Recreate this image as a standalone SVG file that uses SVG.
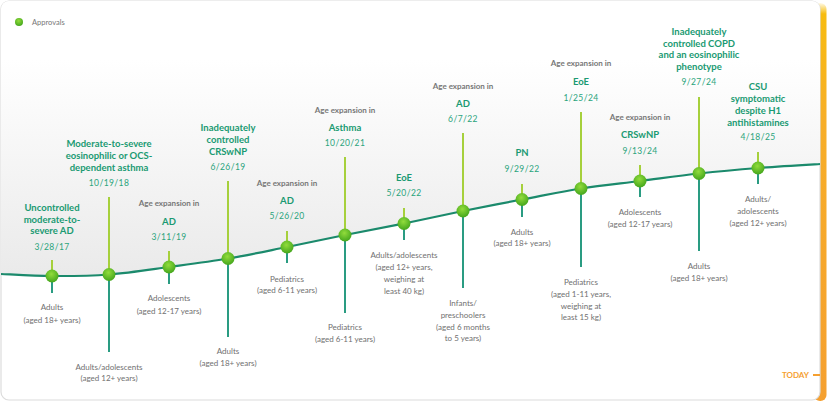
<svg xmlns="http://www.w3.org/2000/svg" width="828" height="402" viewBox="0 0 828 402">
<style>
.t{font-family:Lato,"Liberation Sans",sans-serif;font-weight:700;font-size:9.5px;fill:#1a9a72;text-anchor:middle}
.d{font-family:Lato,"Liberation Sans",sans-serif;font-size:8.5px;fill:#2aa47c;text-anchor:middle;letter-spacing:0.4px}
.a{font-family:Lato,"Liberation Sans",sans-serif;font-weight:700;font-size:8px;fill:#777;text-anchor:middle}
.s{font-family:Lato,"Liberation Sans",sans-serif;font-size:8px;fill:#707070;text-anchor:middle}
.up{stroke:#a6d03c;stroke-width:2}
.dn{stroke:#2a9c82;stroke-width:2}
.n{fill:url(#ball)}
</style>
<defs>
<linearGradient id="bg" x1="0" y1="60" x2="0" y2="276" gradientUnits="userSpaceOnUse">
<stop offset="0" stop-color="#ffffff"/>
<stop offset="1" stop-color="#eaeaea"/>
</linearGradient>
<radialGradient id="ball" cx="0.45" cy="0.35" r="0.65">
<stop offset="0" stop-color="#92dc3c"/>
<stop offset="1" stop-color="#44a61c"/>
</radialGradient>
<linearGradient id="og" x1="0" y1="2" x2="0" y2="400" gradientUnits="userSpaceOnUse">
<stop offset="0" stop-color="#f7c000" stop-opacity="0"/>
<stop offset="0.03" stop-color="#f7bc10"/>
<stop offset="0.3" stop-color="#f7ae28"/>
<stop offset="1" stop-color="#f5a030"/>
</linearGradient>
<clipPath id="card"><rect x="1" y="1" width="819" height="399" rx="8"/></clipPath>
</defs>
<rect x="814" y="3" width="12.5" height="398" rx="6" fill="url(#og)"/>
<rect x="1" y="1" width="819" height="399" rx="8" fill="#ffffff" stroke="#dcdcdc" stroke-width="1.2"/>
<g clip-path="url(#card)">
<path fill="url(#bg)" d="M0,274 C8.7,274.3 33.8,275.9 52,276 C70.2,276.1 89.5,276 109,274.5 C128.5,273 149.2,269.7 169,267 C188.8,264.3 208.3,261.8 228,258.5 C247.7,255.2 267.5,250.9 287,247 C306.5,243.1 325.5,238.9 345,235 C364.5,231.1 384.3,227.5 404,223.5 C423.7,219.5 443.3,215 463,211 C482.7,207 502.3,203.3 522,199.5 C541.7,195.8 561.3,191.6 581,188.5 C600.7,185.4 620.3,183.5 640,181 C659.7,178.5 679.3,175.7 699,173.5 C718.7,171.3 737.5,169.6 758,168 C778.5,166.4 811.3,164.7 826,164 L826,0 L0,0 Z"/>
</g>
<g id="legend">
<circle cx="19" cy="22" r="4" class="n"/>
<text x="32" y="25" style="font-family:Lato,'Liberation Sans',sans-serif;font-size:7.5px;fill:#777">Approvals</text>
</g>
<g id="today">
<line x1="813" y1="375" x2="820" y2="375" stroke="#f5a030" stroke-width="2"/>
<text x="809" y="378" style="font-family:Lato,'Liberation Sans',sans-serif;font-weight:700;font-size:8px;fill:#f5a030;text-anchor:end">TODAY</text>
</g>
<g id="connectors">
<path fill="none" stroke="#1b8a6c" stroke-width="2.2" d="M1,274 C8.7,274.3 33.8,275.9 52,276 C70.2,276.1 89.5,276 109,274.5 C128.5,273 149.2,269.7 169,267 C188.8,264.3 208.3,261.8 228,258.5 C247.7,255.2 267.5,250.9 287,247 C306.5,243.1 325.5,238.9 345,235 C364.5,231.1 384.3,227.5 404,223.5 C423.7,219.5 443.3,215 463,211 C482.7,207 502.3,203.3 522,199.5 C541.7,195.8 561.3,191.6 581,188.5 C600.7,185.4 620.3,183.5 640,181 C659.7,178.5 679.3,175.7 699,173.5 C718.7,171.3 737.5,169.6 758,168 C778.5,166.4 808.3,164.7 820,164"/>
<line class="up" x1="52" y1="260" x2="52" y2="276"/><line class="dn" x1="52" y1="276" x2="52" y2="293"/>
<line class="up" x1="109" y1="197" x2="109" y2="274"/><line class="dn" x1="109" y1="274" x2="109" y2="352"/>
<line class="up" x1="169" y1="251" x2="169" y2="267"/><line class="dn" x1="169" y1="267" x2="169" y2="284"/>
<line class="up" x1="228" y1="181" x2="228" y2="259"/><line class="dn" x1="228" y1="259" x2="228" y2="337"/>
<line class="up" x1="287" y1="231" x2="287" y2="247"/><line class="dn" x1="287" y1="247" x2="287" y2="263"/>
<line class="up" x1="345" y1="157" x2="345" y2="235"/><line class="dn" x1="345" y1="235" x2="345" y2="313"/>
<line class="up" x1="404" y1="208" x2="404" y2="224"/><line class="dn" x1="404" y1="224" x2="404" y2="240"/>
<line class="up" x1="463" y1="133" x2="463" y2="211"/><line class="dn" x1="463" y1="211" x2="463" y2="288"/>
<line class="up" x1="522" y1="184" x2="522" y2="200"/><line class="dn" x1="522" y1="200" x2="522" y2="217"/>
<line class="up" x1="581" y1="112" x2="581" y2="188"/><line class="dn" x1="581" y1="188" x2="581" y2="267"/>
<line class="up" x1="640" y1="165" x2="640" y2="181"/><line class="dn" x1="640" y1="181" x2="640" y2="197"/>
<line class="up" x1="699" y1="97" x2="699" y2="173"/><line class="dn" x1="699" y1="173" x2="699" y2="251"/>
<line class="up" x1="758" y1="152" x2="758" y2="168"/><line class="dn" x1="758" y1="168" x2="758" y2="184"/>
</g>
<g id="n1"><circle class="n" cx="52" cy="276" r="6.5"/>
<text class="t" x="52" y="211">Uncontrolled</text><text class="t" x="52" y="223">moderate-to-</text><text class="t" x="52" y="234">severe AD</text>
<text class="d" x="52" y="250">3/28/17</text>
<text class="s" x="52" y="310">Adults</text><text class="s" x="52" y="323">(aged 18+ years)</text></g>
<g id="n2"><circle class="n" cx="109" cy="274.5" r="6.5"/>
<text class="t" x="109" y="147">Moderate-to-severe</text><text class="t" x="109" y="159">eosinophilic or OCS-</text><text class="t" x="109" y="171">dependent asthma</text>
<text class="d" x="109" y="186">10/19/18</text>
<text class="s" x="109" y="370">Adults/adolescents</text><text class="s" x="109" y="381">(aged 12+ years)</text></g>
<g id="n3"><circle class="n" cx="169" cy="267" r="6.5"/>
<text class="a" x="169" y="206">Age expansion in</text><text class="t" x="169" y="225">AD</text>
<text class="d" x="169" y="240">3/11/19</text>
<text class="s" x="169" y="301">Adolescents</text><text class="s" x="169" y="314">(aged 12-17 years)</text></g>
<g id="n4"><circle class="n" cx="228" cy="258.5" r="6.5"/>
<text class="t" x="228" y="131">Inadequately</text><text class="t" x="228" y="143">controlled</text><text class="t" x="228" y="155">CRSwNP</text>
<text class="d" x="228" y="170">6/26/19</text>
<text class="s" x="228" y="354">Adults</text><text class="s" x="228" y="366">(aged 18+ years)</text></g>
<g id="n5"><circle class="n" cx="287" cy="247" r="6.5"/>
<text class="a" x="287" y="186">Age expansion in</text><text class="t" x="287" y="204">AD</text>
<text class="d" x="287" y="219">5/26/20</text>
<text class="s" x="287" y="282">Pediatrics</text><text class="s" x="287" y="293">(aged 6-11 years)</text></g>
<g id="n6"><circle class="n" cx="345" cy="235" r="6.5"/>
<text class="a" x="345" y="113">Age expansion in</text><text class="t" x="345" y="131">Asthma</text>
<text class="d" x="345" y="146">10/20/21</text>
<text class="s" x="345" y="330">Pediatrics</text><text class="s" x="345" y="342">(aged 6-11 years)</text></g>
<g id="n7"><circle class="n" cx="404" cy="223.5" r="6.5"/>
<text class="t" x="404" y="181">EoE</text>
<text class="d" x="404" y="196">5/20/22</text>
<text class="s" x="404" y="258">Adults/adolescents</text><text class="s" x="404" y="270">(aged 12+ years,</text><text class="s" x="404" y="282">weighing at</text><text class="s" x="404" y="294">least 40 kg)</text></g>
<g id="n8"><circle class="n" cx="463" cy="211" r="6.5"/>
<text class="a" x="463" y="89">Age expansion in</text><text class="t" x="463" y="107">AD</text>
<text class="d" x="463" y="122">6/7/22</text>
<text class="s" x="463" y="306">Infants/</text><text class="s" x="463" y="318">preschoolers</text><text class="s" x="463" y="330">(aged 6 months</text><text class="s" x="463" y="341">to 5 years)</text></g>
<g id="n9"><circle class="n" cx="522" cy="199.5" r="6.5"/>
<text class="t" x="522" y="156">PN</text>
<text class="d" x="522" y="172">9/29/22</text>
<text class="s" x="522" y="235">Adults</text><text class="s" x="522" y="246">(aged 18+ years)</text></g>
<g id="n10"><circle class="n" cx="581" cy="188.5" r="6.5"/>
<text class="a" x="581" y="66">Age expansion in</text><text class="t" x="581" y="85">EoE</text>
<text class="d" x="581" y="101">1/25/24</text>
<text class="s" x="581" y="285">Pediatrics</text><text class="s" x="581" y="297">(aged 1-11 years,</text><text class="s" x="581" y="309">weighing at</text><text class="s" x="581" y="320">least 15 kg)</text></g>
<g id="n11"><circle class="n" cx="640" cy="181" r="6.5"/>
<text class="a" x="640" y="120">Age expansion in</text><text class="t" x="640" y="138">CRSwNP</text>
<text class="d" x="640" y="154">9/13/24</text>
<text class="s" x="640" y="215">Adolescents</text><text class="s" x="640" y="227">(aged 12-17 years)</text></g>
<g id="n12"><circle class="n" cx="699" cy="173.5" r="6.5"/>
<text class="t" x="699" y="35">Inadequately</text><text class="t" x="699" y="47">controlled COPD</text><text class="t" x="699" y="58">and an eosinophilic</text><text class="t" x="699" y="70">phenotype</text>
<text class="d" x="699" y="85">9/27/24</text>
<text class="s" x="699" y="269">Adults</text><text class="s" x="699" y="281">(aged 18+ years)</text></g>
<g id="n13"><circle class="n" cx="758" cy="168" r="6.5"/>
<text class="t" x="758" y="90">CSU</text><text class="t" x="758" y="102">symptomatic</text><text class="t" x="758" y="114">despite H1</text><text class="t" x="758" y="126">antihistamines</text>
<text class="d" x="758" y="140">4/18/25</text>
<text class="s" x="758" y="202">Adults/</text><text class="s" x="758" y="214">adolescents</text><text class="s" x="758" y="226">(aged 12+ years)</text></g>
</svg>
